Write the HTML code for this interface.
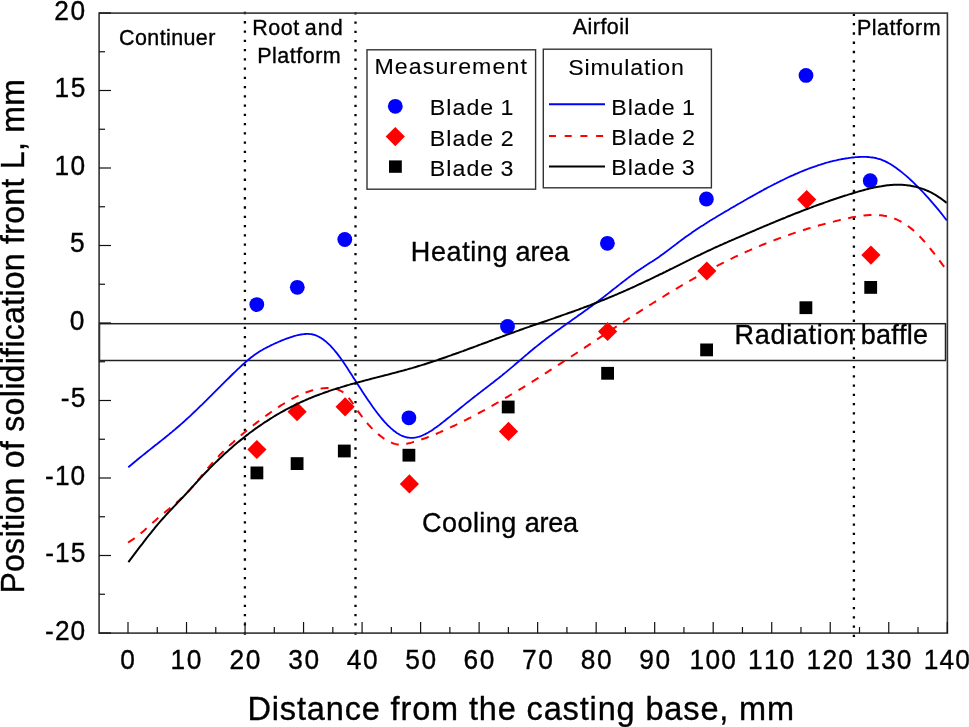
<!DOCTYPE html><html><head><meta charset="utf-8"><style>html,body{margin:0;padding:0;background:#fff;}svg{display:block;}text{font-family:"Liberation Sans",sans-serif;font-kerning:none;font-variant-ligatures:none;}</style></head><body>
<svg width="969" height="727" viewBox="0 0 969 727">
<rect x="0" y="0" width="969" height="727" fill="#fff"/>
<line x1="244.9" y1="11.85" x2="244.9" y2="634.77" stroke="#000" stroke-width="2.3" stroke-dasharray="2.3 6.963"/>
<line x1="355.5" y1="12.15" x2="355.5" y2="634.87" stroke="#000" stroke-width="2.3" stroke-dasharray="2.3 6.960"/>
<line x1="853.9" y1="13.80" x2="853.9" y2="636.99" stroke="#000" stroke-width="2.3" stroke-dasharray="2.3 6.967"/>
<rect x="99.5" y="323.7" width="846" height="36.8" fill="none" stroke="#222" stroke-width="1.5"/>
<circle cx="256.8" cy="304.6" r="7.4" fill="#0000ff"/>
<circle cx="297.3" cy="287.3" r="7.4" fill="#0000ff"/>
<circle cx="344.8" cy="239.5" r="7.4" fill="#0000ff"/>
<circle cx="408.9" cy="417.8" r="7.4" fill="#0000ff"/>
<circle cx="507.5" cy="326.4" r="7.4" fill="#0000ff"/>
<circle cx="607.4" cy="243.3" r="7.4" fill="#0000ff"/>
<circle cx="706.4" cy="199" r="7.4" fill="#0000ff"/>
<circle cx="806" cy="75.4" r="7.4" fill="#0000ff"/>
<circle cx="870.2" cy="180.7" r="7.4" fill="#0000ff"/>
<path d="M256.9,439.9L266.5,449.5L256.9,459.1L247.29999999999998,449.5Z" fill="#ff0000"/>
<path d="M297.1,402.09999999999997L306.70000000000005,411.7L297.1,421.3L287.5,411.7Z" fill="#ff0000"/>
<path d="M345.1,397.2L354.70000000000005,406.8L345.1,416.40000000000003L335.5,406.8Z" fill="#ff0000"/>
<path d="M409.4,474.29999999999995L419.0,483.9L409.4,493.5L399.79999999999995,483.9Z" fill="#ff0000"/>
<path d="M508.5,421.79999999999995L518.1,431.4L508.5,441.0L498.9,431.4Z" fill="#ff0000"/>
<path d="M607.6,321.9L617.2,331.5L607.6,341.1L598.0,331.5Z" fill="#ff0000"/>
<path d="M706.8,261.4L716.4,271L706.8,280.6L697.1999999999999,271Z" fill="#ff0000"/>
<path d="M806.7,190.0L816.3000000000001,199.6L806.7,209.2L797.1,199.6Z" fill="#ff0000"/>
<path d="M870.9,245.5L880.5,255.1L870.9,264.7L861.3,255.1Z" fill="#ff0000"/>
<rect x="250.50" y="466.50" width="12.8" height="12.8" fill="#000"/>
<rect x="290.70" y="457.20" width="12.8" height="12.8" fill="#000"/>
<rect x="337.90" y="444.60" width="12.8" height="12.8" fill="#000"/>
<rect x="402.50" y="448.80" width="12.8" height="12.8" fill="#000"/>
<rect x="501.80" y="400.60" width="12.8" height="12.8" fill="#000"/>
<rect x="601.20" y="366.90" width="12.8" height="12.8" fill="#000"/>
<rect x="700.20" y="343.50" width="12.8" height="12.8" fill="#000"/>
<rect x="799.50" y="301.30" width="12.8" height="12.8" fill="#000"/>
<rect x="864.30" y="281.00" width="12.8" height="12.8" fill="#000"/>
<path d="M128.3,467.3 L129.8,466.0 L131.3,464.8 L132.8,463.5 L134.3,462.2 L135.8,461.0 L137.3,459.7 L138.8,458.5 L140.3,457.3 L141.8,456.1 L143.3,454.9 L144.8,453.7 L146.3,452.5 L147.8,451.3 L149.3,450.1 L150.8,448.9 L152.3,447.7 L153.8,446.5 L155.3,445.3 L156.8,444.2 L158.3,443.0 L159.8,441.8 L161.3,440.6 L162.8,439.4 L164.3,438.2 L165.8,437.0 L167.3,435.8 L168.8,434.6 L170.3,433.3 L171.8,432.1 L173.3,430.8 L174.8,429.6 L176.3,428.3 L177.8,427.0 L179.3,425.7 L180.8,424.4 L182.3,423.1 L183.8,421.8 L185.3,420.4 L186.8,419.0 L188.3,417.7 L189.8,416.3 L191.3,414.9 L192.8,413.4 L194.3,412.0 L195.8,410.6 L197.3,409.2 L198.8,407.7 L200.3,406.2 L201.8,404.8 L203.3,403.3 L204.8,401.8 L206.3,400.4 L207.8,398.9 L209.3,397.4 L210.8,395.9 L212.3,394.4 L213.8,392.9 L215.3,391.4 L216.8,389.9 L218.3,388.4 L219.8,386.9 L221.3,385.4 L222.8,383.9 L224.3,382.4 L225.8,380.9 L227.3,379.4 L228.8,378.0 L230.3,376.5 L231.8,375.0 L233.3,373.5 L234.8,372.1 L236.3,370.6 L237.8,369.2 L239.3,367.8 L240.8,366.4 L242.3,365.0 L243.8,363.6 L245.3,362.3 L246.8,361.0 L248.3,359.8 L249.8,358.5 L251.3,357.3 L252.8,356.2 L254.3,355.1 L255.8,354.0 L257.3,353.0 L258.8,352.0 L260.3,351.0 L261.8,350.2 L263.3,349.3 L264.8,348.5 L266.3,347.7 L267.8,346.9 L269.3,346.2 L270.8,345.4 L272.3,344.7 L273.8,344.0 L275.3,343.3 L276.8,342.7 L278.3,342.0 L279.8,341.3 L281.3,340.7 L282.8,340.1 L284.3,339.5 L285.8,338.9 L287.3,338.3 L288.8,337.8 L290.3,337.3 L291.8,336.8 L293.3,336.3 L294.8,335.9 L296.3,335.5 L297.8,335.1 L299.3,334.8 L300.8,334.5 L302.3,334.3 L303.8,334.1 L305.3,334.0 L306.8,333.9 L308.3,333.9 L309.8,334.1 L311.3,334.2 L312.8,334.5 L314.3,334.9 L315.8,335.4 L317.3,336.0 L318.8,336.8 L320.3,337.6 L321.8,338.5 L323.3,339.6 L324.8,340.7 L326.3,341.9 L327.8,343.3 L329.3,344.7 L330.8,346.2 L332.3,347.8 L333.8,349.5 L335.3,351.3 L336.8,353.1 L338.3,355.1 L339.8,357.1 L341.3,359.2 L342.8,361.3 L344.3,363.5 L345.8,365.8 L347.3,368.0 L348.8,370.4 L350.3,372.7 L351.8,375.0 L353.3,377.4 L354.8,379.7 L356.3,382.0 L357.8,384.4 L359.3,386.7 L360.8,389.1 L362.3,391.4 L363.8,393.7 L365.3,396.0 L366.8,398.2 L368.3,400.4 L369.8,402.6 L371.3,404.8 L372.8,406.9 L374.3,409.0 L375.8,411.0 L377.3,413.0 L378.8,414.9 L380.3,416.8 L381.8,418.6 L383.3,420.4 L384.8,422.1 L386.3,423.7 L387.8,425.3 L389.3,426.7 L390.8,428.1 L392.3,429.4 L393.8,430.7 L395.3,431.8 L396.8,432.9 L398.3,433.8 L399.8,434.7 L401.3,435.5 L402.8,436.1 L404.3,436.7 L405.8,437.1 L407.3,437.5 L408.8,437.7 L410.3,437.9 L411.8,437.9 L413.3,437.8 L414.8,437.6 L416.3,437.4 L417.8,437.0 L419.3,436.6 L420.8,436.1 L422.3,435.5 L423.8,434.8 L425.3,434.1 L426.8,433.3 L428.3,432.5 L429.8,431.6 L431.3,430.7 L432.8,429.7 L434.3,428.6 L435.8,427.6 L437.3,426.5 L438.8,425.4 L440.3,424.2 L441.8,423.1 L443.3,421.9 L444.8,420.7 L446.3,419.5 L447.8,418.3 L449.3,417.1 L450.8,415.9 L452.3,414.6 L453.8,413.4 L455.3,412.2 L456.8,411.0 L458.3,409.7 L459.8,408.5 L461.3,407.3 L462.8,406.1 L464.3,404.9 L465.8,403.6 L467.3,402.4 L468.8,401.3 L470.3,400.1 L471.8,398.9 L473.3,397.7 L474.8,396.5 L476.3,395.4 L477.8,394.2 L479.3,393.1 L480.8,391.9 L482.3,390.7 L483.8,389.6 L485.3,388.4 L486.8,387.3 L488.3,386.1 L489.8,385.0 L491.3,383.8 L492.8,382.7 L494.3,381.5 L495.8,380.3 L497.3,379.1 L498.8,378.0 L500.3,376.8 L501.8,375.6 L503.3,374.3 L504.8,373.1 L506.3,371.9 L507.8,370.6 L509.3,369.4 L510.8,368.1 L512.3,366.9 L513.8,365.6 L515.3,364.3 L516.8,363.0 L518.3,361.8 L519.8,360.5 L521.3,359.2 L522.8,357.9 L524.3,356.6 L525.8,355.3 L527.3,354.1 L528.8,352.8 L530.3,351.5 L531.8,350.3 L533.3,349.0 L534.8,347.8 L536.3,346.6 L537.8,345.4 L539.3,344.2 L540.8,343.0 L542.3,341.8 L543.8,340.6 L545.3,339.5 L546.8,338.3 L548.3,337.2 L549.8,336.1 L551.3,335.0 L552.8,333.8 L554.3,332.7 L555.8,331.6 L557.3,330.6 L558.8,329.5 L560.3,328.4 L561.8,327.3 L563.3,326.2 L564.8,325.2 L566.3,324.1 L567.8,323.0 L569.3,322.0 L570.8,320.9 L572.3,319.8 L573.8,318.8 L575.3,317.7 L576.8,316.7 L578.3,315.6 L579.8,314.5 L581.3,313.5 L582.8,312.4 L584.3,311.3 L585.8,310.2 L587.3,309.2 L588.8,308.1 L590.3,307.0 L591.8,305.9 L593.3,304.8 L594.8,303.7 L596.3,302.6 L597.8,301.5 L599.3,300.3 L600.8,299.2 L602.3,298.1 L603.8,296.9 L605.3,295.7 L606.8,294.6 L608.3,293.4 L609.8,292.2 L611.3,291.0 L612.8,289.8 L614.3,288.6 L615.8,287.5 L617.3,286.3 L618.8,285.1 L620.3,283.9 L621.8,282.7 L623.3,281.6 L624.8,280.4 L626.3,279.3 L627.8,278.1 L629.3,277.0 L630.8,275.9 L632.3,274.7 L633.8,273.7 L635.3,272.6 L636.8,271.5 L638.3,270.5 L639.8,269.5 L641.3,268.4 L642.8,267.5 L644.3,266.5 L645.8,265.5 L647.3,264.6 L648.8,263.6 L650.3,262.6 L651.8,261.7 L653.3,260.7 L654.8,259.7 L656.3,258.7 L657.8,257.7 L659.3,256.7 L660.8,255.6 L662.3,254.5 L663.8,253.4 L665.3,252.3 L666.8,251.2 L668.3,250.1 L669.8,248.9 L671.3,247.8 L672.8,246.6 L674.3,245.5 L675.8,244.4 L677.3,243.2 L678.8,242.1 L680.3,240.9 L681.8,239.8 L683.3,238.7 L684.8,237.6 L686.3,236.5 L687.8,235.5 L689.3,234.4 L690.8,233.4 L692.3,232.3 L693.8,231.3 L695.3,230.3 L696.8,229.3 L698.3,228.3 L699.8,227.3 L701.3,226.3 L702.8,225.4 L704.3,224.4 L705.8,223.5 L707.3,222.5 L708.8,221.6 L710.3,220.6 L711.8,219.7 L713.3,218.8 L714.8,217.9 L716.3,217.0 L717.8,216.1 L719.3,215.2 L720.8,214.3 L722.3,213.4 L723.8,212.5 L725.3,211.6 L726.8,210.8 L728.3,209.9 L729.8,209.0 L731.3,208.1 L732.8,207.2 L734.3,206.4 L735.8,205.5 L737.3,204.6 L738.8,203.8 L740.3,202.9 L741.8,202.0 L743.3,201.2 L744.8,200.3 L746.3,199.5 L747.8,198.6 L749.3,197.7 L750.8,196.9 L752.3,196.1 L753.8,195.2 L755.3,194.4 L756.8,193.5 L758.3,192.7 L759.8,191.9 L761.3,191.1 L762.8,190.3 L764.3,189.4 L765.8,188.6 L767.3,187.8 L768.8,187.0 L770.3,186.3 L771.8,185.5 L773.3,184.7 L774.8,183.9 L776.3,183.2 L777.8,182.4 L779.3,181.7 L780.8,180.9 L782.3,180.2 L783.8,179.5 L785.3,178.7 L786.8,178.0 L788.3,177.3 L789.8,176.6 L791.3,175.9 L792.8,175.3 L794.3,174.6 L795.8,173.9 L797.3,173.3 L798.8,172.6 L800.3,172.0 L801.8,171.4 L803.3,170.8 L804.8,170.2 L806.3,169.6 L807.8,169.0 L809.3,168.4 L810.8,167.9 L812.3,167.3 L813.8,166.8 L815.3,166.3 L816.8,165.8 L818.3,165.2 L819.8,164.8 L821.3,164.3 L822.8,163.8 L824.3,163.4 L825.8,162.9 L827.3,162.5 L828.8,162.1 L830.3,161.7 L831.8,161.3 L833.3,160.9 L834.8,160.6 L836.3,160.3 L837.8,159.9 L839.3,159.6 L840.8,159.3 L842.3,159.0 L843.8,158.8 L845.3,158.5 L846.8,158.3 L848.3,158.1 L849.8,157.9 L851.3,157.7 L852.8,157.5 L854.3,157.4 L855.8,157.2 L857.3,157.1 L858.8,157.0 L860.3,156.9 L861.8,156.9 L863.3,156.9 L864.8,156.9 L866.3,156.9 L867.8,157.0 L869.3,157.1 L870.8,157.3 L872.3,157.5 L873.8,157.7 L875.3,158.0 L876.8,158.4 L878.3,158.8 L879.8,159.2 L881.3,159.7 L882.8,160.3 L884.3,160.9 L885.8,161.6 L887.3,162.4 L888.8,163.2 L890.3,164.1 L891.8,165.0 L893.3,166.0 L894.8,167.0 L896.3,168.1 L897.8,169.2 L899.3,170.3 L900.8,171.4 L902.3,172.6 L903.8,173.9 L905.3,175.1 L906.8,176.4 L908.3,177.7 L909.8,179.1 L911.3,180.5 L912.8,181.9 L914.3,183.3 L915.8,184.8 L917.3,186.3 L918.8,187.8 L920.3,189.3 L921.8,190.9 L923.3,192.5 L924.8,194.1 L926.3,195.8 L927.8,197.4 L929.3,199.1 L930.8,200.8 L932.3,202.6 L933.8,204.3 L935.3,206.1 L936.8,207.9 L938.3,209.7 L939.8,211.5 L941.3,213.4 L942.8,215.3 L944.3,217.2 L945.8,219.1 L946.8,220.4" fill="none" stroke="#0000ff" stroke-width="1.8"/>
<path d="M128.0,542.5 L129.5,541.6 L131.0,540.7 L132.5,539.7 L134.0,538.6 L135.5,537.5 L137.0,536.4 L138.5,535.2 L140.0,534.0 L141.5,532.7 L143.0,531.5 L144.5,530.2 L146.0,528.8 L147.5,527.5 L149.0,526.2 L150.5,524.8 L152.0,523.5 L153.5,522.1 L155.0,520.8 L156.5,519.4 L158.0,518.1 L159.5,516.8 L161.0,515.6 L162.5,514.3 L164.0,513.1 L165.5,511.8 L167.0,510.6 L168.5,509.4 L170.0,508.1 L171.5,506.9 L173.0,505.6 L174.5,504.4 L176.0,503.1 L177.5,501.8 L179.0,500.5 L180.5,499.1 L182.0,497.7 L183.5,496.3 L185.0,494.9 L186.5,493.4 L188.0,491.8 L189.5,490.2 L191.0,488.6 L192.5,486.9 L194.0,485.1 L195.5,483.3 L197.0,481.5 L198.5,479.6 L200.0,477.8 L201.5,475.9 L203.0,474.1 L204.5,472.2 L206.0,470.4 L207.5,468.6 L209.0,466.8 L210.5,465.1 L212.0,463.4 L213.5,461.7 L215.0,460.1 L216.5,458.5 L218.0,456.9 L219.5,455.3 L221.0,453.8 L222.5,452.3 L224.0,450.8 L225.5,449.4 L227.0,447.9 L228.5,446.5 L230.0,445.1 L231.5,443.7 L233.0,442.4 L234.5,441.0 L236.0,439.7 L237.5,438.4 L239.0,437.1 L240.5,435.8 L242.0,434.5 L243.5,433.2 L245.0,432.0 L246.5,430.7 L248.0,429.5 L249.5,428.3 L251.0,427.1 L252.5,425.9 L254.0,424.7 L255.5,423.6 L257.0,422.4 L258.5,421.3 L260.0,420.1 L261.5,419.0 L263.0,417.9 L264.5,416.8 L266.0,415.7 L267.5,414.6 L269.0,413.6 L270.5,412.5 L272.0,411.5 L273.5,410.4 L275.0,409.4 L276.5,408.4 L278.0,407.4 L279.5,406.4 L281.0,405.4 L282.5,404.5 L284.0,403.6 L285.5,402.6 L287.0,401.7 L288.5,400.9 L290.0,400.0 L291.5,399.2 L293.0,398.4 L294.5,397.6 L296.0,396.8 L297.5,396.1 L299.0,395.4 L300.5,394.7 L302.0,394.0 L303.5,393.4 L305.0,392.8 L306.5,392.2 L308.0,391.7 L309.5,391.2 L311.0,390.7 L312.5,390.3 L314.0,389.9 L315.5,389.6 L317.0,389.2 L318.5,388.9 L320.0,388.7 L321.5,388.5 L323.0,388.3 L324.5,388.2 L326.0,388.1 L327.5,388.1 L329.0,388.1 L330.5,388.1 L332.0,388.3 L333.5,388.4 L335.0,388.7 L336.5,389.1 L338.0,389.6 L339.5,390.2 L341.0,391.0 L342.5,391.9 L344.0,393.0 L345.5,394.3 L347.0,395.9 L348.5,397.6 L350.0,399.5 L351.5,401.6 L353.0,403.8 L354.5,406.0 L356.0,408.3 L357.5,410.5 L359.0,412.6 L360.5,414.7 L362.0,416.7 L363.5,418.7 L365.0,420.6 L366.5,422.4 L368.0,424.1 L369.5,425.8 L371.0,427.4 L372.5,428.9 L374.0,430.4 L375.5,431.8 L377.0,433.1 L378.5,434.4 L380.0,435.6 L381.5,436.8 L383.0,437.9 L384.5,438.9 L386.0,439.9 L387.5,440.8 L389.0,441.6 L390.5,442.3 L392.0,442.9 L393.5,443.5 L395.0,443.9 L396.5,444.2 L398.0,444.4 L399.5,444.5 L401.0,444.5 L402.5,444.4 L404.0,444.2 L405.5,444.0 L407.0,443.7 L408.5,443.3 L410.0,443.0 L411.5,442.6 L413.0,442.1 L414.5,441.7 L416.0,441.3 L417.5,440.8 L419.0,440.3 L420.5,439.8 L422.0,439.3 L423.5,438.8 L425.0,438.3 L426.5,437.7 L428.0,437.1 L429.5,436.6 L431.0,436.0 L432.5,435.4 L434.0,434.7 L435.5,434.1 L437.0,433.5 L438.5,432.8 L440.0,432.2 L441.5,431.5 L443.0,430.9 L444.5,430.2 L446.0,429.5 L447.5,428.8 L449.0,428.1 L450.5,427.4 L452.0,426.7 L453.5,426.0 L455.0,425.3 L456.5,424.6 L458.0,423.8 L459.5,423.1 L461.0,422.3 L462.5,421.6 L464.0,420.8 L465.5,420.1 L467.0,419.3 L468.5,418.5 L470.0,417.8 L471.5,417.0 L473.0,416.2 L474.5,415.4 L476.0,414.6 L477.5,413.8 L479.0,413.0 L480.5,412.2 L482.0,411.4 L483.5,410.6 L485.0,409.7 L486.5,408.9 L488.0,408.1 L489.5,407.2 L491.0,406.4 L492.5,405.5 L494.0,404.7 L495.5,403.8 L497.0,403.0 L498.5,402.1 L500.0,401.2 L501.5,400.4 L503.0,399.5 L504.5,398.6 L506.0,397.7 L507.5,396.8 L509.0,395.9 L510.5,395.0 L512.0,394.1 L513.5,393.2 L515.0,392.3 L516.5,391.4 L518.0,390.5 L519.5,389.6 L521.0,388.7 L522.5,387.8 L524.0,386.8 L525.5,385.9 L527.0,385.0 L528.5,384.0 L530.0,383.1 L531.5,382.2 L533.0,381.2 L534.5,380.3 L536.0,379.3 L537.5,378.4 L539.0,377.4 L540.5,376.5 L542.0,375.5 L543.5,374.6 L545.0,373.6 L546.5,372.6 L548.0,371.7 L549.5,370.7 L551.0,369.7 L552.5,368.8 L554.0,367.8 L555.5,366.8 L557.0,365.9 L558.5,364.9 L560.0,363.9 L561.5,362.9 L563.0,361.9 L564.5,361.0 L566.0,360.0 L567.5,359.0 L569.0,358.0 L570.5,357.0 L572.0,356.0 L573.5,355.0 L575.0,354.0 L576.5,353.1 L578.0,352.1 L579.5,351.1 L581.0,350.1 L582.5,349.1 L584.0,348.1 L585.5,347.1 L587.0,346.1 L588.5,345.1 L590.0,344.1 L591.5,343.1 L593.0,342.1 L594.5,341.1 L596.0,340.1 L597.5,339.1 L599.0,338.2 L600.5,337.2 L602.0,336.2 L603.5,335.2 L605.0,334.2 L606.5,333.2 L608.0,332.2 L609.5,331.2 L611.0,330.2 L612.5,329.2 L614.0,328.2 L615.5,327.2 L617.0,326.3 L618.5,325.3 L620.0,324.3 L621.5,323.3 L623.0,322.3 L624.5,321.3 L626.0,320.4 L627.5,319.4 L629.0,318.4 L630.5,317.4 L632.0,316.4 L633.5,315.5 L635.0,314.5 L636.5,313.5 L638.0,312.6 L639.5,311.6 L641.0,310.6 L642.5,309.7 L644.0,308.7 L645.5,307.8 L647.0,306.8 L648.5,305.9 L650.0,304.9 L651.5,304.0 L653.0,303.0 L654.5,302.1 L656.0,301.1 L657.5,300.2 L659.0,299.3 L660.5,298.3 L662.0,297.4 L663.5,296.5 L665.0,295.5 L666.5,294.6 L668.0,293.7 L669.5,292.8 L671.0,291.9 L672.5,291.0 L674.0,290.1 L675.5,289.2 L677.0,288.3 L678.5,287.4 L680.0,286.5 L681.5,285.6 L683.0,284.7 L684.5,283.9 L686.0,283.0 L687.5,282.1 L689.0,281.2 L690.5,280.4 L692.0,279.5 L693.5,278.7 L695.0,277.8 L696.5,277.0 L698.0,276.1 L699.5,275.3 L701.0,274.5 L702.5,273.6 L704.0,272.8 L705.5,272.0 L707.0,271.2 L708.5,270.4 L710.0,269.6 L711.5,268.8 L713.0,268.0 L714.5,267.2 L716.0,266.4 L717.5,265.6 L719.0,264.9 L720.5,264.1 L722.0,263.3 L723.5,262.6 L725.0,261.8 L726.5,261.1 L728.0,260.3 L729.5,259.6 L731.0,258.9 L732.5,258.2 L734.0,257.4 L735.5,256.7 L737.0,256.0 L738.5,255.3 L740.0,254.6 L741.5,253.9 L743.0,253.3 L744.5,252.6 L746.0,251.9 L747.5,251.2 L749.0,250.6 L750.5,249.9 L752.0,249.3 L753.5,248.6 L755.0,248.0 L756.5,247.3 L758.0,246.7 L759.5,246.1 L761.0,245.4 L762.5,244.8 L764.0,244.2 L765.5,243.6 L767.0,243.0 L768.5,242.4 L770.0,241.8 L771.5,241.3 L773.0,240.7 L774.5,240.1 L776.0,239.5 L777.5,239.0 L779.0,238.4 L780.5,237.9 L782.0,237.3 L783.5,236.8 L785.0,236.2 L786.5,235.7 L788.0,235.2 L789.5,234.7 L791.0,234.1 L792.5,233.6 L794.0,233.1 L795.5,232.6 L797.0,232.1 L798.5,231.6 L800.0,231.1 L801.5,230.7 L803.0,230.2 L804.5,229.7 L806.0,229.3 L807.5,228.8 L809.0,228.3 L810.5,227.9 L812.0,227.4 L813.5,227.0 L815.0,226.6 L816.5,226.1 L818.0,225.7 L819.5,225.3 L821.0,224.9 L822.5,224.5 L824.0,224.1 L825.5,223.7 L827.0,223.3 L828.5,222.9 L830.0,222.5 L831.5,222.1 L833.0,221.7 L834.5,221.4 L836.0,221.0 L837.5,220.6 L839.0,220.3 L840.5,219.9 L842.0,219.6 L843.5,219.2 L845.0,218.9 L846.5,218.6 L848.0,218.3 L849.5,217.9 L851.0,217.6 L852.5,217.3 L854.0,217.0 L855.5,216.8 L857.0,216.5 L858.5,216.2 L860.0,216.0 L861.5,215.8 L863.0,215.6 L864.5,215.4 L866.0,215.3 L867.5,215.2 L869.0,215.1 L870.5,215.0 L872.0,214.9 L873.5,214.9 L875.0,214.9 L876.5,215.0 L878.0,215.1 L879.5,215.2 L881.0,215.3 L882.5,215.5 L884.0,215.8 L885.5,216.0 L887.0,216.3 L888.5,216.7 L890.0,217.1 L891.5,217.6 L893.0,218.1 L894.5,218.6 L896.0,219.2 L897.5,219.9 L899.0,220.6 L900.5,221.3 L902.0,222.2 L903.5,223.0 L905.0,224.0 L906.5,225.0 L908.0,226.1 L909.5,227.2 L911.0,228.4 L912.5,229.6 L914.0,231.0 L915.5,232.3 L917.0,233.8 L918.5,235.3 L920.0,236.8 L921.5,238.4 L923.0,240.0 L924.5,241.7 L926.0,243.5 L927.5,245.2 L929.0,247.0 L930.5,248.9 L932.0,250.8 L933.5,252.7 L935.0,254.6 L936.5,256.6 L938.0,258.6 L939.5,260.6 L941.0,262.6 L942.5,264.7 L944.0,266.7 L945.5,268.8 L946.8,270.6" fill="none" stroke="#ff0000" stroke-width="2" stroke-dasharray="8 7.6"/>
<path d="M128.4,562.1 L129.9,560.1 L131.4,558.1 L132.9,556.1 L134.4,554.1 L135.9,552.1 L137.4,550.2 L138.9,548.2 L140.4,546.2 L141.9,544.3 L143.4,542.3 L144.9,540.4 L146.4,538.4 L147.9,536.5 L149.4,534.6 L150.9,532.8 L152.4,530.9 L153.9,529.1 L155.4,527.2 L156.9,525.4 L158.4,523.6 L159.9,521.9 L161.4,520.2 L162.9,518.5 L164.4,516.8 L165.9,515.1 L167.4,513.5 L168.9,511.9 L170.4,510.3 L171.9,508.7 L173.4,507.1 L174.9,505.6 L176.4,504.0 L177.9,502.4 L179.4,500.9 L180.9,499.3 L182.4,497.7 L183.9,496.1 L185.4,494.5 L186.9,492.8 L188.4,491.2 L189.9,489.6 L191.4,487.9 L192.9,486.3 L194.4,484.6 L195.9,483.0 L197.4,481.4 L198.9,479.7 L200.4,478.1 L201.9,476.5 L203.4,474.9 L204.9,473.3 L206.4,471.7 L207.9,470.2 L209.4,468.6 L210.9,467.1 L212.4,465.6 L213.9,464.1 L215.4,462.6 L216.9,461.2 L218.4,459.7 L219.9,458.3 L221.4,456.9 L222.9,455.5 L224.4,454.1 L225.9,452.7 L227.4,451.4 L228.9,450.0 L230.4,448.7 L231.9,447.4 L233.4,446.1 L234.9,444.8 L236.4,443.6 L237.9,442.3 L239.4,441.1 L240.9,439.9 L242.4,438.7 L243.9,437.5 L245.4,436.3 L246.9,435.1 L248.4,434.0 L249.9,432.8 L251.4,431.7 L252.9,430.6 L254.4,429.5 L255.9,428.4 L257.4,427.4 L258.9,426.3 L260.4,425.3 L261.9,424.3 L263.4,423.2 L264.9,422.2 L266.4,421.3 L267.9,420.3 L269.4,419.3 L270.9,418.4 L272.4,417.5 L273.9,416.5 L275.4,415.6 L276.9,414.7 L278.4,413.9 L279.9,413.0 L281.4,412.1 L282.9,411.3 L284.4,410.5 L285.9,409.7 L287.4,408.9 L288.9,408.1 L290.4,407.3 L291.9,406.5 L293.4,405.8 L294.9,405.0 L296.4,404.3 L297.9,403.6 L299.4,402.9 L300.9,402.2 L302.4,401.5 L303.9,400.8 L305.4,400.2 L306.9,399.5 L308.4,398.9 L309.9,398.2 L311.4,397.6 L312.9,397.0 L314.4,396.4 L315.9,395.8 L317.4,395.3 L318.9,394.7 L320.4,394.1 L321.9,393.6 L323.4,393.0 L324.9,392.5 L326.4,392.0 L327.9,391.5 L329.4,390.9 L330.9,390.4 L332.4,389.9 L333.9,389.4 L335.4,389.0 L336.9,388.5 L338.4,388.0 L339.9,387.6 L341.4,387.1 L342.9,386.6 L344.4,386.2 L345.9,385.7 L347.4,385.3 L348.9,384.9 L350.4,384.4 L351.9,384.0 L353.4,383.6 L354.9,383.2 L356.4,382.8 L357.9,382.4 L359.4,382.0 L360.9,381.6 L362.4,381.2 L363.9,380.8 L365.4,380.4 L366.9,380.0 L368.4,379.6 L369.9,379.2 L371.4,378.8 L372.9,378.4 L374.4,378.0 L375.9,377.6 L377.4,377.3 L378.9,376.9 L380.4,376.5 L381.9,376.1 L383.4,375.7 L384.9,375.3 L386.4,375.0 L387.9,374.6 L389.4,374.2 L390.9,373.8 L392.4,373.4 L393.9,373.0 L395.4,372.6 L396.9,372.2 L398.4,371.8 L399.9,371.4 L401.4,371.0 L402.9,370.6 L404.4,370.2 L405.9,369.8 L407.4,369.4 L408.9,368.9 L410.4,368.5 L411.9,368.1 L413.4,367.6 L414.9,367.2 L416.4,366.8 L417.9,366.3 L419.4,365.8 L420.9,365.4 L422.4,364.9 L423.9,364.5 L425.4,364.0 L426.9,363.5 L428.4,363.0 L429.9,362.5 L431.4,362.0 L432.9,361.6 L434.4,361.1 L435.9,360.6 L437.4,360.1 L438.9,359.5 L440.4,359.0 L441.9,358.5 L443.4,358.0 L444.9,357.5 L446.4,357.0 L447.9,356.4 L449.4,355.9 L450.9,355.4 L452.4,354.8 L453.9,354.3 L455.4,353.8 L456.9,353.2 L458.4,352.7 L459.9,352.1 L461.4,351.6 L462.9,351.1 L464.4,350.5 L465.9,350.0 L467.4,349.4 L468.9,348.8 L470.4,348.3 L471.9,347.7 L473.4,347.2 L474.9,346.6 L476.4,346.1 L477.9,345.5 L479.4,344.9 L480.9,344.4 L482.4,343.8 L483.9,343.3 L485.4,342.7 L486.9,342.2 L488.4,341.6 L489.9,341.0 L491.4,340.5 L492.9,339.9 L494.4,339.4 L495.9,338.8 L497.4,338.2 L498.9,337.7 L500.4,337.1 L501.9,336.6 L503.4,336.0 L504.9,335.5 L506.4,334.9 L507.9,334.4 L509.4,333.8 L510.9,333.3 L512.4,332.7 L513.9,332.2 L515.4,331.6 L516.9,331.1 L518.4,330.6 L519.9,330.0 L521.4,329.5 L522.9,329.0 L524.4,328.4 L525.9,327.9 L527.4,327.4 L528.9,326.9 L530.4,326.3 L531.9,325.8 L533.4,325.3 L534.9,324.8 L536.4,324.3 L537.9,323.8 L539.4,323.2 L540.9,322.7 L542.4,322.2 L543.9,321.7 L545.4,321.2 L546.9,320.7 L548.4,320.1 L549.9,319.6 L551.4,319.1 L552.9,318.6 L554.4,318.1 L555.9,317.5 L557.4,317.0 L558.9,316.5 L560.4,316.0 L561.9,315.4 L563.4,314.9 L564.9,314.4 L566.4,313.9 L567.9,313.3 L569.4,312.8 L570.9,312.3 L572.4,311.7 L573.9,311.2 L575.4,310.6 L576.9,310.1 L578.4,309.6 L579.9,309.0 L581.4,308.4 L582.9,307.9 L584.4,307.3 L585.9,306.8 L587.4,306.2 L588.9,305.6 L590.4,305.1 L591.9,304.5 L593.4,303.9 L594.9,303.3 L596.4,302.7 L597.9,302.1 L599.4,301.5 L600.9,300.9 L602.4,300.3 L603.9,299.7 L605.4,299.1 L606.9,298.5 L608.4,297.9 L609.9,297.2 L611.4,296.6 L612.9,296.0 L614.4,295.4 L615.9,294.7 L617.4,294.1 L618.9,293.4 L620.4,292.8 L621.9,292.1 L623.4,291.5 L624.9,290.8 L626.4,290.2 L627.9,289.5 L629.4,288.8 L630.9,288.1 L632.4,287.5 L633.9,286.8 L635.4,286.1 L636.9,285.4 L638.4,284.7 L639.9,284.0 L641.4,283.3 L642.9,282.6 L644.4,281.9 L645.9,281.2 L647.4,280.5 L648.9,279.8 L650.4,279.1 L651.9,278.4 L653.4,277.7 L654.9,276.9 L656.4,276.2 L657.9,275.5 L659.4,274.7 L660.9,274.0 L662.4,273.3 L663.9,272.5 L665.4,271.8 L666.9,271.0 L668.4,270.3 L669.9,269.5 L671.4,268.8 L672.9,268.1 L674.4,267.3 L675.9,266.6 L677.4,265.8 L678.9,265.1 L680.4,264.3 L681.9,263.6 L683.4,262.8 L684.9,262.1 L686.4,261.3 L687.9,260.6 L689.4,259.9 L690.9,259.1 L692.4,258.4 L693.9,257.7 L695.4,256.9 L696.9,256.2 L698.4,255.5 L699.9,254.8 L701.4,254.0 L702.9,253.3 L704.4,252.6 L705.9,251.9 L707.4,251.2 L708.9,250.5 L710.4,249.8 L711.9,249.1 L713.4,248.4 L714.9,247.7 L716.4,247.0 L717.9,246.4 L719.4,245.7 L720.9,245.0 L722.4,244.4 L723.9,243.7 L725.4,243.0 L726.9,242.4 L728.4,241.7 L729.9,241.0 L731.4,240.4 L732.9,239.7 L734.4,239.1 L735.9,238.4 L737.4,237.8 L738.9,237.1 L740.4,236.5 L741.9,235.8 L743.4,235.2 L744.9,234.6 L746.4,233.9 L747.9,233.3 L749.4,232.6 L750.9,232.0 L752.4,231.3 L753.9,230.7 L755.4,230.1 L756.9,229.4 L758.4,228.8 L759.9,228.1 L761.4,227.5 L762.9,226.9 L764.4,226.2 L765.9,225.6 L767.4,225.0 L768.9,224.4 L770.4,223.7 L771.9,223.1 L773.4,222.5 L774.9,221.9 L776.4,221.2 L777.9,220.6 L779.4,220.0 L780.9,219.4 L782.4,218.8 L783.9,218.2 L785.4,217.6 L786.9,216.9 L788.4,216.3 L789.9,215.7 L791.4,215.1 L792.9,214.5 L794.4,213.9 L795.9,213.3 L797.4,212.8 L798.9,212.2 L800.4,211.6 L801.9,211.0 L803.4,210.4 L804.9,209.8 L806.4,209.3 L807.9,208.7 L809.4,208.1 L810.9,207.6 L812.4,207.0 L813.9,206.4 L815.4,205.9 L816.9,205.3 L818.4,204.8 L819.9,204.2 L821.4,203.7 L822.9,203.2 L824.4,202.6 L825.9,202.1 L827.4,201.6 L828.9,201.0 L830.4,200.5 L831.9,200.0 L833.4,199.5 L834.9,199.0 L836.4,198.5 L837.9,198.0 L839.4,197.5 L840.9,197.0 L842.4,196.5 L843.9,196.0 L845.4,195.5 L846.9,195.1 L848.4,194.6 L849.9,194.1 L851.4,193.7 L852.9,193.2 L854.4,192.8 L855.9,192.3 L857.4,191.9 L858.9,191.4 L860.4,191.0 L861.9,190.6 L863.4,190.2 L864.9,189.8 L866.4,189.4 L867.9,189.0 L869.4,188.6 L870.9,188.3 L872.4,187.9 L873.9,187.6 L875.4,187.3 L876.9,187.0 L878.4,186.7 L879.9,186.4 L881.4,186.2 L882.9,185.9 L884.4,185.7 L885.9,185.5 L887.4,185.3 L888.9,185.2 L890.4,185.0 L891.9,184.9 L893.4,184.8 L894.9,184.8 L896.4,184.7 L897.9,184.7 L899.4,184.7 L900.9,184.8 L902.4,184.8 L903.9,184.9 L905.4,185.1 L906.9,185.2 L908.4,185.4 L909.9,185.6 L911.4,185.9 L912.9,186.2 L914.4,186.5 L915.9,186.8 L917.4,187.2 L918.9,187.6 L920.4,188.1 L921.9,188.6 L923.4,189.1 L924.9,189.7 L926.4,190.3 L927.9,191.0 L929.4,191.7 L930.9,192.4 L932.4,193.2 L933.9,194.0 L935.4,194.9 L936.9,195.8 L938.4,196.8 L939.9,197.8 L941.4,198.9 L942.9,200.0 L944.4,201.1 L945.9,202.3 L946.7,203.0" fill="none" stroke="#000" stroke-width="2"/>
<rect x="99.1" y="13.1" width="848.3" height="620" fill="none" stroke="#333" stroke-width="1.6"/>
<line x1="128.00" y1="633" x2="128.00" y2="622" stroke="#111" stroke-width="1.2"/>
<line x1="157.26" y1="633" x2="157.26" y2="627" stroke="#111" stroke-width="1.2"/>
<line x1="186.52" y1="633" x2="186.52" y2="622" stroke="#111" stroke-width="1.2"/>
<line x1="215.78" y1="633" x2="215.78" y2="627" stroke="#111" stroke-width="1.2"/>
<line x1="245.04" y1="633" x2="245.04" y2="622" stroke="#111" stroke-width="1.2"/>
<line x1="274.30" y1="633" x2="274.30" y2="627" stroke="#111" stroke-width="1.2"/>
<line x1="303.56" y1="633" x2="303.56" y2="622" stroke="#111" stroke-width="1.2"/>
<line x1="332.82" y1="633" x2="332.82" y2="627" stroke="#111" stroke-width="1.2"/>
<line x1="362.08" y1="633" x2="362.08" y2="622" stroke="#111" stroke-width="1.2"/>
<line x1="391.34" y1="633" x2="391.34" y2="627" stroke="#111" stroke-width="1.2"/>
<line x1="420.60" y1="633" x2="420.60" y2="622" stroke="#111" stroke-width="1.2"/>
<line x1="449.86" y1="633" x2="449.86" y2="627" stroke="#111" stroke-width="1.2"/>
<line x1="479.12" y1="633" x2="479.12" y2="622" stroke="#111" stroke-width="1.2"/>
<line x1="508.38" y1="633" x2="508.38" y2="627" stroke="#111" stroke-width="1.2"/>
<line x1="537.64" y1="633" x2="537.64" y2="622" stroke="#111" stroke-width="1.2"/>
<line x1="566.90" y1="633" x2="566.90" y2="627" stroke="#111" stroke-width="1.2"/>
<line x1="596.16" y1="633" x2="596.16" y2="622" stroke="#111" stroke-width="1.2"/>
<line x1="625.42" y1="633" x2="625.42" y2="627" stroke="#111" stroke-width="1.2"/>
<line x1="654.68" y1="633" x2="654.68" y2="622" stroke="#111" stroke-width="1.2"/>
<line x1="683.94" y1="633" x2="683.94" y2="627" stroke="#111" stroke-width="1.2"/>
<line x1="713.20" y1="633" x2="713.20" y2="622" stroke="#111" stroke-width="1.2"/>
<line x1="742.46" y1="633" x2="742.46" y2="627" stroke="#111" stroke-width="1.2"/>
<line x1="771.72" y1="633" x2="771.72" y2="622" stroke="#111" stroke-width="1.2"/>
<line x1="800.98" y1="633" x2="800.98" y2="627" stroke="#111" stroke-width="1.2"/>
<line x1="830.24" y1="633" x2="830.24" y2="622" stroke="#111" stroke-width="1.2"/>
<line x1="859.50" y1="633" x2="859.50" y2="627" stroke="#111" stroke-width="1.2"/>
<line x1="888.76" y1="633" x2="888.76" y2="622" stroke="#111" stroke-width="1.2"/>
<line x1="918.02" y1="633" x2="918.02" y2="627" stroke="#111" stroke-width="1.2"/>
<line x1="947.28" y1="633" x2="947.28" y2="622" stroke="#111" stroke-width="1.2"/>
<line x1="99" y1="633.00" x2="111" y2="633.00" stroke="#111" stroke-width="1.2"/>
<line x1="99" y1="594.25" x2="105" y2="594.25" stroke="#111" stroke-width="1.2"/>
<line x1="99" y1="555.50" x2="111" y2="555.50" stroke="#111" stroke-width="1.2"/>
<line x1="99" y1="516.75" x2="105" y2="516.75" stroke="#111" stroke-width="1.2"/>
<line x1="99" y1="478.00" x2="111" y2="478.00" stroke="#111" stroke-width="1.2"/>
<line x1="99" y1="439.25" x2="105" y2="439.25" stroke="#111" stroke-width="1.2"/>
<line x1="99" y1="400.50" x2="111" y2="400.50" stroke="#111" stroke-width="1.2"/>
<line x1="99" y1="361.75" x2="105" y2="361.75" stroke="#111" stroke-width="1.2"/>
<line x1="99" y1="323.00" x2="111" y2="323.00" stroke="#111" stroke-width="1.2"/>
<line x1="99" y1="284.25" x2="105" y2="284.25" stroke="#111" stroke-width="1.2"/>
<line x1="99" y1="245.50" x2="111" y2="245.50" stroke="#111" stroke-width="1.2"/>
<line x1="99" y1="206.75" x2="105" y2="206.75" stroke="#111" stroke-width="1.2"/>
<line x1="99" y1="168.00" x2="111" y2="168.00" stroke="#111" stroke-width="1.2"/>
<line x1="99" y1="129.25" x2="105" y2="129.25" stroke="#111" stroke-width="1.2"/>
<line x1="99" y1="90.50" x2="111" y2="90.50" stroke="#111" stroke-width="1.2"/>
<line x1="99" y1="51.75" x2="105" y2="51.75" stroke="#111" stroke-width="1.2"/>
<line x1="99" y1="13.00" x2="111" y2="13.00" stroke="#111" stroke-width="1.2"/>
<text transform="translate(120.31,668.50) scale(1,1.04)" font-size="26.3" letter-spacing="0.000" fill="#000" stroke="#000" stroke-width="0.35">0</text>
<text transform="translate(170.62,668.50) scale(1,1.04)" font-size="26.3" letter-spacing="1.573" fill="#000" stroke="#000" stroke-width="0.35">10</text>
<text transform="translate(229.46,668.50) scale(1,1.04)" font-size="26.3" letter-spacing="1.614" fill="#000" stroke="#000" stroke-width="0.35">20</text>
<text transform="translate(288.13,668.50) scale(1,1.04)" font-size="26.3" letter-spacing="1.633" fill="#000" stroke="#000" stroke-width="0.35">30</text>
<text transform="translate(346.84,668.50) scale(1,1.04)" font-size="26.3" letter-spacing="1.657" fill="#000" stroke="#000" stroke-width="0.35">40</text>
<text transform="translate(405.15,668.50) scale(1,1.04)" font-size="26.3" letter-spacing="1.630" fill="#000" stroke="#000" stroke-width="0.35">50</text>
<text transform="translate(463.53,668.50) scale(1,1.04)" font-size="26.3" letter-spacing="1.613" fill="#000" stroke="#000" stroke-width="0.35">60</text>
<text transform="translate(522.05,668.50) scale(1,1.04)" font-size="26.3" letter-spacing="1.613" fill="#000" stroke="#000" stroke-width="0.35">70</text>
<text transform="translate(580.66,668.50) scale(1,1.04)" font-size="26.3" letter-spacing="1.625" fill="#000" stroke="#000" stroke-width="0.35">80</text>
<text transform="translate(639.14,668.50) scale(1,1.04)" font-size="26.3" letter-spacing="1.620" fill="#000" stroke="#000" stroke-width="0.35">90</text>
<text transform="translate(689.55,668.50) scale(1,1.04)" font-size="26.3" letter-spacing="1.225" fill="#000" stroke="#000" stroke-width="0.35">100</text>
<text transform="translate(748.07,668.50) scale(1,1.04)" font-size="26.3" letter-spacing="1.225" fill="#000" stroke="#000" stroke-width="0.35">110</text>
<text transform="translate(806.59,668.50) scale(1,1.04)" font-size="26.3" letter-spacing="1.225" fill="#000" stroke="#000" stroke-width="0.35">120</text>
<text transform="translate(865.11,668.50) scale(1,1.04)" font-size="26.3" letter-spacing="1.225" fill="#000" stroke="#000" stroke-width="0.35">130</text>
<text transform="translate(923.63,668.50) scale(1,1.04)" font-size="26.3" letter-spacing="1.225" fill="#000" stroke="#000" stroke-width="0.35">140</text>
<text transform="translate(45.07,639.90) scale(1,1.04)" font-size="26.3" letter-spacing="1.074" fill="#000" stroke="#000" stroke-width="0.35">-20</text>
<text transform="translate(45.15,562.40) scale(1,1.04)" font-size="26.3" letter-spacing="1.072" fill="#000" stroke="#000" stroke-width="0.35">-15</text>
<text transform="translate(45.07,484.90) scale(1,1.04)" font-size="26.3" letter-spacing="1.074" fill="#000" stroke="#000" stroke-width="0.35">-10</text>
<text transform="translate(60.65,407.40) scale(1,1.04)" font-size="26.3" letter-spacing="1.267" fill="#000" stroke="#000" stroke-width="0.35">-5</text>
<text transform="translate(69.85,329.90) scale(1,1.04)" font-size="26.3" letter-spacing="0.000" fill="#000" stroke="#000" stroke-width="0.35">0</text>
<text transform="translate(69.93,252.40) scale(1,1.04)" font-size="26.3" letter-spacing="0.000" fill="#000" stroke="#000" stroke-width="0.35">5</text>
<text transform="translate(54.40,174.90) scale(1,1.04)" font-size="26.3" letter-spacing="1.573" fill="#000" stroke="#000" stroke-width="0.35">10</text>
<text transform="translate(54.48,97.40) scale(1,1.04)" font-size="26.3" letter-spacing="1.569" fill="#000" stroke="#000" stroke-width="0.35">15</text>
<text transform="translate(54.36,19.90) scale(1,1.04)" font-size="26.3" letter-spacing="1.614" fill="#000" stroke="#000" stroke-width="0.35">20</text>
<text transform="translate(247.43,719.50) scale(1,1.04)" font-size="32.5" letter-spacing="0.864" fill="#000" stroke="#000" stroke-width="0.35">Distance from the casting base, mm</text>
<text transform="translate(24.20,593.62) rotate(-90) scale(1,1.04)" font-size="32" letter-spacing="0.311" fill="#000" stroke="#000" stroke-width="0.35">Position of solidification front L, mm</text>
<text transform="translate(119.11,45.30) scale(1,1.04)" font-size="21.5" letter-spacing="0.378" fill="#000" stroke="#000" stroke-width="0.35">Continuer</text>
<text transform="translate(252.14,35.40) scale(1,1.04)" font-size="21.5" letter-spacing="0.536" fill="#000" stroke="#000" stroke-width="0.35">Root</text>
<text transform="translate(304.79,35.40) scale(1,1.04)" font-size="21.5" letter-spacing="1.014" fill="#000" stroke="#000" stroke-width="0.35">and</text>
<text transform="translate(257.24,62.90) scale(1,1.04)" font-size="21.5" letter-spacing="0.490" fill="#000" stroke="#000" stroke-width="0.35">Platform</text>
<text transform="translate(572.76,33.50) scale(1,1.04)" font-size="21.5" letter-spacing="0.470" fill="#000" stroke="#000" stroke-width="0.35">Airfoil</text>
<text transform="translate(856.94,34.80) scale(1,1.04)" font-size="21.5" letter-spacing="0.519" fill="#000" stroke="#000" stroke-width="0.35">Platform</text>
<rect x="367" y="49.8" width="168.6" height="139.4" fill="#fff" stroke="#333" stroke-width="1.4"/>
<rect x="543.3" y="49.2" width="168.1" height="138.6" fill="#fff" stroke="#333" stroke-width="1.4"/>
<text transform="translate(374.40,74.40) scale(1,0.98)" font-size="23.2" letter-spacing="1.073" fill="#000" stroke="#000" stroke-width="0.1">Measurement</text>
<text transform="translate(568.15,75.30) scale(1,0.98)" font-size="23.2" letter-spacing="0.838" fill="#000" stroke="#000" stroke-width="0.1">Simulation</text>
<text transform="translate(429.80,115.00) scale(1,0.98)" font-size="23.2" letter-spacing="1.024" fill="#000" stroke="#000" stroke-width="0.1">Blade</text>
<text transform="translate(500.56,115.00) scale(1,0.98)" font-size="23.2" letter-spacing="0.000" fill="#000" stroke="#000" stroke-width="0.1">1</text>
<text transform="translate(429.80,145.50) scale(1,0.98)" font-size="23.2" letter-spacing="1.024" fill="#000" stroke="#000" stroke-width="0.1">Blade</text>
<text transform="translate(500.66,145.50) scale(1,0.98)" font-size="23.2" letter-spacing="0.000" fill="#000" stroke="#000" stroke-width="0.1">2</text>
<text transform="translate(429.80,175.70) scale(1,0.98)" font-size="23.2" letter-spacing="1.024" fill="#000" stroke="#000" stroke-width="0.1">Blade</text>
<text transform="translate(500.42,175.70) scale(1,0.98)" font-size="23.2" letter-spacing="0.000" fill="#000" stroke="#000" stroke-width="0.1">3</text>
<text transform="translate(611.20,114.80) scale(1,0.98)" font-size="23.2" letter-spacing="1.024" fill="#000" stroke="#000" stroke-width="0.1">Blade</text>
<text transform="translate(681.96,114.80) scale(1,0.98)" font-size="23.2" letter-spacing="0.000" fill="#000" stroke="#000" stroke-width="0.1">1</text>
<text transform="translate(611.20,145.20) scale(1,0.98)" font-size="23.2" letter-spacing="1.024" fill="#000" stroke="#000" stroke-width="0.1">Blade</text>
<text transform="translate(682.06,145.20) scale(1,0.98)" font-size="23.2" letter-spacing="0.000" fill="#000" stroke="#000" stroke-width="0.1">2</text>
<text transform="translate(611.20,175.30) scale(1,0.98)" font-size="23.2" letter-spacing="1.024" fill="#000" stroke="#000" stroke-width="0.1">Blade</text>
<text transform="translate(681.82,175.30) scale(1,0.98)" font-size="23.2" letter-spacing="0.000" fill="#000" stroke="#000" stroke-width="0.1">3</text>
<circle cx="395.3" cy="106.3" r="7.4" fill="#0000ff"/>
<path d="M395.3,127.0L404.90000000000003,136.6L395.3,146.2L385.7,136.6Z" fill="#ff0000"/>
<rect x="389" y="160.4" width="12.8" height="12.4" fill="#000"/>
<line x1="549" y1="104.3" x2="605" y2="104.3" stroke="#0000ff" stroke-width="2"/>
<line x1="549" y1="135.9" x2="605" y2="135.9" stroke="#ff0000" stroke-width="2" stroke-dasharray="7 8.7"/>
<line x1="549" y1="166.5" x2="605" y2="166.5" stroke="#000" stroke-width="2"/>
<text transform="translate(410.79,261.00) scale(1,1.04)" font-size="27" letter-spacing="0.615" fill="#000" stroke="#000" stroke-width="0.35">Heating</text>
<text transform="translate(515.45,261.00) scale(1,1.04)" font-size="27" letter-spacing="-0.064" fill="#000" stroke="#000" stroke-width="0.35">area</text>
<text transform="translate(422.03,532.40) scale(1,1.04)" font-size="27" letter-spacing="0.459" fill="#000" stroke="#000" stroke-width="0.35">Cooling</text>
<text transform="translate(524.75,532.40) scale(1,1.04)" font-size="27" letter-spacing="-0.231" fill="#000" stroke="#000" stroke-width="0.35">area</text>
<text transform="translate(734.49,344.00) scale(1,1.04)" font-size="27" letter-spacing="0.711" fill="#000" stroke="#000" stroke-width="0.35">Radiation</text>
<text transform="translate(860.66,344.00) scale(1,1.04)" font-size="27" letter-spacing="0.258" fill="#000" stroke="#000" stroke-width="0.35">baffle</text>
</svg></body></html>
